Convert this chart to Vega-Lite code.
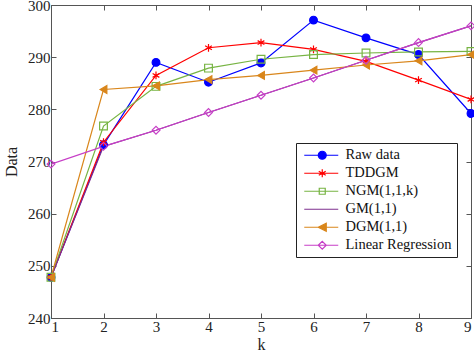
{
  "$schema": "https://vega.github.io/schema/vega-lite/v6.json",
  "width": 420,
  "height": 313,
  "autosize": "none",
  "padding": {"left": 51, "top": 5, "right": 3, "bottom": 42},
  "background": "white",
  "config": {
    "view": {"stroke": "#555555", "strokeWidth": 1},
    "font": "Liberation Serif",
    "axis": {
      "grid": false,
      "domainColor": "#555555",
      "tickColor": "#555555",
      "tickSize": -5,
      "labelFont": "Liberation Serif",
      "labelFontSize": 15,
      "labelColor": "#222222",
      "titleFont": "Liberation Serif",
      "titleFontSize": 16,
      "titleFontWeight": "normal",
      "titleColor": "#222222"
    }
  },
  "data": {
    "values": [
      {"k": 1, "series": "Raw data", "v": 247.8},
      {"k": 2, "series": "Raw data", "v": 273.2},
      {"k": 3, "series": "Raw data", "v": 289.0},
      {"k": 4, "series": "Raw data", "v": 285.2},
      {"k": 5, "series": "Raw data", "v": 288.9},
      {"k": 6, "series": "Raw data", "v": 297.1},
      {"k": 7, "series": "Raw data", "v": 293.7},
      {"k": 8, "series": "Raw data", "v": 290.5},
      {"k": 9, "series": "Raw data", "v": 279.2},
      {"k": 1, "series": "TDDGM", "v": 247.8},
      {"k": 2, "series": "TDDGM", "v": 273.7},
      {"k": 3, "series": "TDDGM", "v": 286.5},
      {"k": 4, "series": "TDDGM", "v": 291.8},
      {"k": 5, "series": "TDDGM", "v": 292.8},
      {"k": 6, "series": "TDDGM", "v": 291.5},
      {"k": 7, "series": "TDDGM", "v": 289.2},
      {"k": 8, "series": "TDDGM", "v": 285.6},
      {"k": 9, "series": "TDDGM", "v": 281.9},
      {"k": 1, "series": "NGM(1,1,k)", "v": 247.8},
      {"k": 2, "series": "NGM(1,1,k)", "v": 276.8},
      {"k": 3, "series": "NGM(1,1,k)", "v": 284.4},
      {"k": 4, "series": "NGM(1,1,k)", "v": 287.9},
      {"k": 5, "series": "NGM(1,1,k)", "v": 289.6},
      {"k": 6, "series": "NGM(1,1,k)", "v": 290.5},
      {"k": 7, "series": "NGM(1,1,k)", "v": 290.8},
      {"k": 8, "series": "NGM(1,1,k)", "v": 291.0},
      {"k": 9, "series": "NGM(1,1,k)", "v": 291.1},
      {"k": 1, "series": "GM(1,1)", "v": 247.8},
      {"k": 2, "series": "GM(1,1)", "v": 272.9},
      {"k": 3, "series": "GM(1,1)", "v": 276.0},
      {"k": 4, "series": "GM(1,1)", "v": 279.4},
      {"k": 5, "series": "GM(1,1)", "v": 282.7},
      {"k": 6, "series": "GM(1,1)", "v": 286.0},
      {"k": 7, "series": "GM(1,1)", "v": 289.4},
      {"k": 8, "series": "GM(1,1)", "v": 292.8},
      {"k": 9, "series": "GM(1,1)", "v": 296.0},
      {"k": 1, "series": "DGM(1,1)", "v": 247.8},
      {"k": 2, "series": "DGM(1,1)", "v": 283.8},
      {"k": 3, "series": "DGM(1,1)", "v": 284.5},
      {"k": 4, "series": "DGM(1,1)", "v": 285.7},
      {"k": 5, "series": "DGM(1,1)", "v": 286.5},
      {"k": 6, "series": "DGM(1,1)", "v": 287.5},
      {"k": 7, "series": "DGM(1,1)", "v": 288.5},
      {"k": 8, "series": "DGM(1,1)", "v": 289.3},
      {"k": 9, "series": "DGM(1,1)", "v": 290.5},
      {"k": 1, "series": "Linear Regression", "v": 269.5},
      {"k": 2, "series": "Linear Regression", "v": 272.9},
      {"k": 3, "series": "Linear Regression", "v": 276.0},
      {"k": 4, "series": "Linear Regression", "v": 279.4},
      {"k": 5, "series": "Linear Regression", "v": 282.7},
      {"k": 6, "series": "Linear Regression", "v": 286.0},
      {"k": 7, "series": "Linear Regression", "v": 289.4},
      {"k": 8, "series": "Linear Regression", "v": 292.8},
      {"k": 9, "series": "Linear Regression", "v": 296.0}
    ]
  },
  "layer": [
    {
      "mark": {"type": "line", "strokeWidth": 1.2, "clip": true},
      "encoding": {
        "x": {"field": "k", "type": "quantitative", "scale": {"domain": [1, 9], "nice": false},
              "axis": {"title": "k", "values": [1,2,3,4,5,6,7,8,9], "format": "d", "labelPadding": 6, "titlePadding": 2}},
        "y": {"field": "v", "type": "quantitative", "scale": {"domain": [240, 300], "nice": false, "zero": false},
              "axis": {"title": "Data", "values": [240,250,260,270,280,290,300], "labelPadding": 6, "titlePadding": 8}},
        "color": {
          "field": "series", "type": "nominal", "sort": null,
          "scale": {
            "domain": ["Raw data", "TDDGM", "NGM(1,1,k)", "GM(1,1)", "DGM(1,1)", "Linear Regression"],
            "range": ["#0000ff", "#ff0000", "#77b443", "#7e2f8e", "#d9861b", "#c73fc7"]
          },
          "legend": {
            "title": null,
            "orient": "none",
            "legendX": 245,
            "legendY": 138,
            "padding": 5,
            "strokeColor": "#222222",
            "fillColor": "white",
            "symbolSize": 64,
            "labelOffset": 30,
            "rowPadding": 3,
            "labelFont": "Liberation Serif",
            "labelFontSize": 14.5,
            "labelColor": "#111111",
            "encode": {
              "symbols": {
                "update": {
                  "shape": {"signal": "datum.value == 'Raw data' ? 'M-1,0H7.5M4.5,0A1,1 0 1,1 2.5,0A1,1 0 1,1 4.5,0Z' : datum.value == 'TDDGM' ? 'M-1,0H7.5M3.5,-1V1M2.63,-0.5L4.37,0.5M2.63,0.5L4.37,-0.5' : datum.value == 'NGM(1,1,k)' ? 'M-1,0H7.5M2.75,-0.75H4.25V0.75H2.75Z' : datum.value == 'GM(1,1)' ? 'M-1,0H7.5' : datum.value == 'DGM(1,1)' ? 'M-1,0H7.5M2.5,0L4.5,-1L4.5,1Z' : 'M-1,0H7.5M2.5,0L3.5,-1L4.5,0L3.5,1Z'"},
                  "fill": {"signal": "datum.value == 'Raw data' ? '#0000ff' : datum.value == 'TDDGM' ? '#ff0000' : datum.value == 'DGM(1,1)' ? '#d9861b' : 'transparent'"},
                  "size": {"value": 64},
                  "strokeWidth": {"value": 1.2},
                  "opacity": {"value": 1},
                  "fillOpacity": {"value": 1}
                }
              }
            }
          }
        }
      }
    },
    {
      "transform": [{"filter": "datum.series != 'GM(1,1)'"}],
      "mark": {"type": "point", "size": 60, "strokeWidth": 1.2, "opacity": 1, "clip": false},
      "encoding": {
        "x": {"field": "k", "type": "quantitative",
              "axis": {"orient": "top", "labels": false, "title": null, "values": [1,2,3,4,5,6,7,8,9], "domain": false}},
        "y": {"field": "v", "type": "quantitative",
              "axis": {"orient": "right", "labels": false, "title": null, "values": [240,250,260,270,280,290,300], "domain": false}},
        "shape": {
          "field": "series", "type": "nominal", "legend": null,
          "scale": {
            "domain": ["Raw data", "TDDGM", "NGM(1,1,k)", "DGM(1,1)", "Linear Regression"],
            "range": ["circle", "M0,-1L0,1M-0.87,-0.5L0.87,0.5M-0.87,0.5L0.87,-0.5", "square", "triangle-left", "diamond"]
          }
        },
        "stroke": {
          "field": "series", "type": "nominal", "legend": null,
          "scale": {
            "domain": ["Raw data", "TDDGM", "NGM(1,1,k)", "DGM(1,1)", "Linear Regression"],
            "range": ["#0000ff", "#ff0000", "#77b443", "#d9861b", "#c73fc7"]
          }
        },
        "fill": {
          "field": "series", "type": "nominal", "legend": null,
          "scale": {
            "domain": ["Raw data", "TDDGM", "NGM(1,1,k)", "DGM(1,1)", "Linear Regression"],
            "range": ["#0000ff", "#ff0000", "transparent", "#d9861b", "transparent"]
          }
        }
      }
    }
  ],
  "resolve": {"axis": {"x": "independent", "y": "independent"}}
}
